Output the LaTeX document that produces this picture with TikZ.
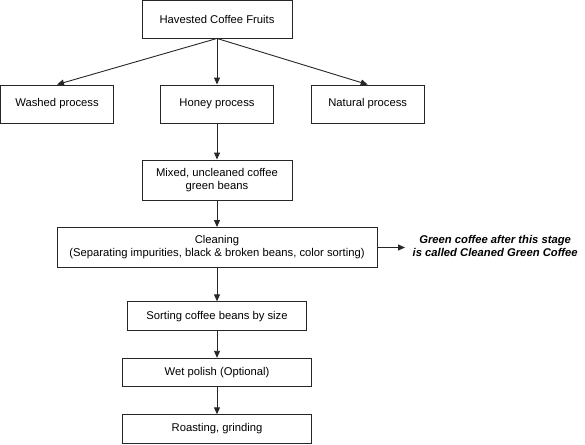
\documentclass[tikz,border=0pt]{standalone}
\usepackage{fontspec}
\setmainfont{Liberation Sans}
\usetikzlibrary{arrows.meta}
\begin{document}
\begin{tikzpicture}[x=1pt,y=-1pt,
  every node/.style={font=\fontsize{11.25}{13}\selectfont},
  box/.style={draw=black!85, line width=0.9pt, fill=white, inner sep=0pt, align=center},
  link/.style={draw=black!85, line width=0.9pt, -{Stealth[length=7pt,width=6pt,inset=0pt]}},
  note/.style={inner xsep=7.5pt, inner ysep=0pt, align=center, font=\fontsize{11.25}{13.4}\selectfont\bfseries\itshape}
]
\useasboundingbox (0,0) rectangle (585,444);
\node[box, minimum width=150pt, minimum height=37.5pt] (top) at (217,19.25) {Havested Coffee Fruits};
\node[box, minimum width=113pt, minimum height=38pt] (washed) at (57,104) {Washed process};
\node[box, minimum width=113pt, minimum height=38pt] (honey) at (217,104) {Honey process};
\node[box, minimum width=113pt, minimum height=38pt] (natural) at (367.7,104) {Natural process};
\node[box, minimum width=150pt, minimum height=40pt] (mixed) at (217,180) {Mixed, uncleaned coffee\\green beans};
\node[box, minimum width=320pt, minimum height=40pt] (clean) at (217,247.5) {Cleaning\\(Separating impurities, black \& broken beans, color sorting)};
\node[note, anchor=west] (note) at (405,246) {Green coffee after this stage\\is called Cleaned Green Coffee};
\node[box, minimum width=179pt, minimum height=29pt] (sort) at (217,316.3) {Sorting coffee beans by size};
\node[box, minimum width=189pt, minimum height=28.5pt] (wet) at (217,372.5) {Wet polish (Optional)};
\node[box, minimum width=189pt, minimum height=28.5pt] (roast) at (217,429) {Roasting, grinding};

\draw[link] (top.south) -- (washed.north);
\draw[link] (top.south) -- (honey.north);
\draw[link] (top.south) -- (natural.north);
\draw[link] (honey.south) -- (mixed.north);
\draw[link] (mixed.south) -- (clean.north);
\draw[link] (clean.east) -- (clean.east -| note.west);
\draw[link] (clean.south) -- (sort.north);
\draw[link] (sort.south) -- (wet.north);
\draw[link] (wet.south) -- (roast.north);
\end{tikzpicture}
\end{document}
